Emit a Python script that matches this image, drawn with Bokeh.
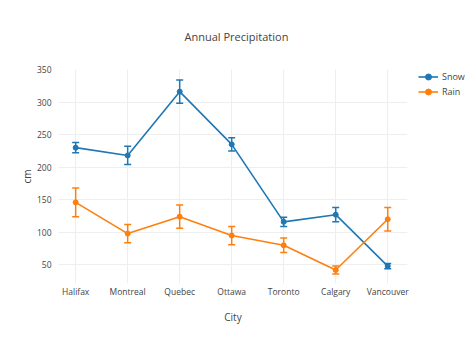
from bokeh.plotting import figure
from bokeh.models import (ColumnDataSource, Whisker, TeeHead, Range1d, FixedTicker,
                          Legend, LegendItem)
from bokeh.embed import file_html
from bokeh.resources import INLINE

cities = ["Halifax", "Montreal", "Quebec", "Ottawa", "Toronto", "Calgary", "Vancouver"]
snow = [230, 218, 316, 235, 116, 127, 48]
snow_err = [8, 14, 18, 10, 7, 11, 4]
rain = [146, 98, 124, 95, 80, 42, 120]
rain_err = [22, 14, 18, 14, 11, 6, 18]
y_ticks = [50, 100, 150, 200, 250, 300, 350]

FONT = "Open Sans"
TXT = "#444444"
SNOW_C = "#1f77b4"
RAIN_C = "#ff7f0e"

xs = list(range(len(cities)))

p = figure(frame_width=349, frame_height=214, output_backend="svg", toolbar_location=None,
           x_range=Range1d(-0.33, 6.38), y_range=Range1d(21.3, 350),
           min_border_left=58, min_border_right=67, min_border_top=68, min_border_bottom=56)
p.outline_line_color = None
p.background_fill_color = "white"
p.border_fill_color = "white"

def make_src(vals, errs):
    return ColumnDataSource(dict(x=xs, y=vals,
                                 upper=[v + e for v, e in zip(vals, errs)],
                                 lower=[v - e for v, e in zip(vals, errs)]))

items = []
for name, vals, errs, col in [("Snow", snow, snow_err, SNOW_C), ("Rain", rain, rain_err, RAIN_C)]:
    src = make_src(vals, errs)
    w = Whisker(base="x", upper="upper", lower="lower", source=src,
                line_color=col, line_width=1.5,
                upper_head=TeeHead(size=7, line_color=col, line_width=1.5),
                lower_head=TeeHead(size=7, line_color=col, line_width=1.5))
    p.add_layout(w)
    ln = p.line("x", "y", source=src, line_color=col, line_width=1.6)
    sc = p.scatter("x", "y", source=src, size=5, fill_color=col, line_color=col)
    items.append(LegendItem(label=name, renderers=[ln, sc]))

legend = Legend(items=items, location=(11, 184), margin=0, padding=0,
                glyph_width=20, glyph_height=15, label_height=15, label_standoff=4,
                spacing=0, background_fill_alpha=0, border_line_color=None,
                label_text_font=FONT, label_text_font_size="9px", label_text_color=TXT)
p.add_layout(legend, "right")

# axes
p.xaxis.ticker = FixedTicker(ticks=xs)
p.xaxis.major_label_overrides = {i: c for i, c in zip(xs, cities)}
p.yaxis.ticker = FixedTicker(ticks=y_ticks)
for ax in (p.xaxis[0], p.yaxis[0]):
    ax.axis_line_color = None
    ax.major_tick_line_color = None
    ax.minor_tick_line_color = None
    ax.major_label_text_font = FONT
    ax.major_label_text_font_size = "8.5px"
    ax.major_label_text_color = TXT
    ax.axis_label_text_font = FONT
    ax.axis_label_text_font_size = "10px"
    ax.axis_label_text_font_style = "normal"
    ax.axis_label_text_color = TXT
p.xaxis.axis_label = "City"
p.yaxis.axis_label = "cm"
p.xaxis.major_label_standoff = -4
p.xaxis.axis_label_standoff = 10
p.yaxis.major_label_standoff = 1
p.yaxis.axis_label_standoff = 0

p.xgrid.ticker = FixedTicker(ticks=xs)
p.ygrid.ticker = FixedTicker(ticks=y_ticks)
p.xgrid.grid_line_color = "#eeeeee"
p.ygrid.grid_line_color = "#eeeeee"

p.title.text = "Annual Precipitation"
p.title.align = "left"
p.title.offset = 126
p.title.standoff = 52
p.title.text_font = FONT
p.title.text_font_size = "11px"
p.title.text_font_style = "normal"
p.title.text_color = TXT

open("out.html", "w").write(file_html(p, INLINE))
